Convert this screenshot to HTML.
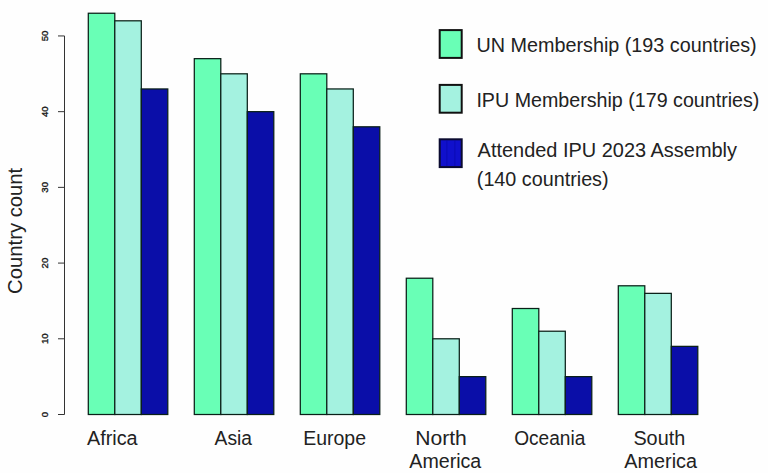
<!DOCTYPE html>
<html><head><meta charset="utf-8"><title>Chart</title>
<style>
html,body{margin:0;padding:0;background:#fefefe;}
body{width:768px;height:473px;overflow:hidden;}
svg{display:block;}
text{font-family:"Liberation Sans",sans-serif;fill:#222;}
.lab{font-size:19.6px;}
.leg{font-size:19.6px;}
.tick{font-size:9.6px;fill:#1a1a1a;stroke:#1a1a1a;stroke-width:0.35px;}
</style></head><body>
<svg width="768" height="473" viewBox="0 0 768 473">
<rect x="0" y="0" width="768" height="473" fill="#fefefe"/>

<rect x="88.30" y="13.24" width="26.50" height="401.26" fill="#69FFB6" stroke="#0a2018" stroke-width="1.25"/>
<rect x="114.80" y="20.81" width="26.50" height="393.69" fill="#A4F2E0" stroke="#0a2018" stroke-width="1.25"/>
<rect x="141.30" y="88.95" width="26.50" height="325.55" fill="#0A0EA8" stroke="#0a2018" stroke-width="1.25"/>
<rect x="194.30" y="58.66" width="26.50" height="355.84" fill="#69FFB6" stroke="#0a2018" stroke-width="1.25"/>
<rect x="220.80" y="73.81" width="26.50" height="340.69" fill="#A4F2E0" stroke="#0a2018" stroke-width="1.25"/>
<rect x="247.30" y="111.66" width="26.50" height="302.84" fill="#0A0EA8" stroke="#0a2018" stroke-width="1.25"/>
<rect x="300.30" y="73.81" width="26.50" height="340.69" fill="#69FFB6" stroke="#0a2018" stroke-width="1.25"/>
<rect x="326.80" y="88.95" width="26.50" height="325.55" fill="#A4F2E0" stroke="#0a2018" stroke-width="1.25"/>
<rect x="353.30" y="126.80" width="26.50" height="287.70" fill="#0A0EA8" stroke="#0a2018" stroke-width="1.25"/>
<rect x="406.30" y="278.22" width="26.50" height="136.28" fill="#69FFB6" stroke="#0a2018" stroke-width="1.25"/>
<rect x="432.80" y="338.79" width="26.50" height="75.71" fill="#A4F2E0" stroke="#0a2018" stroke-width="1.25"/>
<rect x="459.30" y="376.64" width="26.50" height="37.85" fill="#0A0EA8" stroke="#0a2018" stroke-width="1.25"/>
<rect x="512.30" y="308.51" width="26.50" height="105.99" fill="#69FFB6" stroke="#0a2018" stroke-width="1.25"/>
<rect x="538.80" y="331.22" width="26.50" height="83.28" fill="#A4F2E0" stroke="#0a2018" stroke-width="1.25"/>
<rect x="565.30" y="376.64" width="26.50" height="37.85" fill="#0A0EA8" stroke="#0a2018" stroke-width="1.25"/>
<rect x="618.30" y="285.79" width="26.50" height="128.71" fill="#69FFB6" stroke="#0a2018" stroke-width="1.25"/>
<rect x="644.80" y="293.36" width="26.50" height="121.14" fill="#A4F2E0" stroke="#0a2018" stroke-width="1.25"/>
<rect x="671.30" y="346.36" width="26.50" height="68.14" fill="#0A0EA8" stroke="#0a2018" stroke-width="1.25"/>
<path d="M64.5 35.95 V414.50" stroke="#333" stroke-width="1" fill="none"/>
<path d="M58 414.50 H64.5" stroke="#333" stroke-width="1" fill="none"/>
<text class="tick" transform="translate(48.1 414.50) rotate(-90)" text-anchor="middle">0</text>
<path d="M58 338.79 H64.5" stroke="#333" stroke-width="1" fill="none"/>
<text class="tick" transform="translate(48.1 338.79) rotate(-90)" text-anchor="middle">10</text>
<path d="M58 263.08 H64.5" stroke="#333" stroke-width="1" fill="none"/>
<text class="tick" transform="translate(48.1 263.08) rotate(-90)" text-anchor="middle">20</text>
<path d="M58 187.37 H64.5" stroke="#333" stroke-width="1" fill="none"/>
<text class="tick" transform="translate(48.1 187.37) rotate(-90)" text-anchor="middle">30</text>
<path d="M58 111.66 H64.5" stroke="#333" stroke-width="1" fill="none"/>
<text class="tick" transform="translate(48.1 111.66) rotate(-90)" text-anchor="middle">40</text>
<path d="M58 35.95 H64.5" stroke="#333" stroke-width="1" fill="none"/>
<text class="tick" transform="translate(48.1 35.95) rotate(-90)" text-anchor="middle">50</text>
<text class="lab" transform="translate(21.8 293.9) rotate(-90)" textLength="126.1" lengthAdjust="spacingAndGlyphs">Country count</text>
<text class="lab" x="87" y="444.5" textLength="50.6" lengthAdjust="spacingAndGlyphs">Africa</text>
<text class="lab" x="214.6" y="444.5" textLength="37.4" lengthAdjust="spacingAndGlyphs">Asia</text>
<text class="lab" x="303.2" y="444.5" textLength="62.8" lengthAdjust="spacingAndGlyphs">Europe</text>
<text class="lab" x="415.2" y="444.5" textLength="51.6" lengthAdjust="spacingAndGlyphs">North</text>
<text class="lab" x="409.3" y="467.5" textLength="72.0" lengthAdjust="spacingAndGlyphs">America</text>
<text class="lab" x="514.2" y="444.5" textLength="71.2" lengthAdjust="spacingAndGlyphs">Oceania</text>
<text class="lab" x="633.4" y="444.5" textLength="51.8" lengthAdjust="spacingAndGlyphs">South</text>
<text class="lab" x="624.3" y="467.5" textLength="72.7" lengthAdjust="spacingAndGlyphs">America</text>
<rect x="439.7" y="30.1" width="22" height="27.8" fill="#69FFB6" stroke="#111" stroke-width="2"/>
<rect x="439.7" y="84.9" width="22" height="27.8" fill="#A4F2E0" stroke="#111" stroke-width="2"/>
<rect x="439.7" y="139.3" width="22" height="27.8" fill="#1010CC" stroke="#0a0a30" stroke-width="2"/>
<path d="M446.8 140.3 V166" stroke="#0808a8" stroke-width="1.2" opacity="0.55"/>
<path d="M454.8 140.3 V166" stroke="#0808a8" stroke-width="1.2" opacity="0.55"/>
<text class="lab leg" x="476.5" y="51.55" textLength="280.1" lengthAdjust="spacingAndGlyphs">UN Membership (193 countries)</text>
<text class="lab leg" x="476.4" y="107.15" textLength="283.0" lengthAdjust="spacingAndGlyphs">IPU Membership (179 countries)</text>
<text class="lab leg" x="477.6" y="157.05" textLength="259.4" lengthAdjust="spacingAndGlyphs">Attended IPU 2023 Assembly</text>
<text class="lab leg" x="476.8" y="185.85" textLength="131.8" lengthAdjust="spacingAndGlyphs">(140 countries)</text>
</svg></body></html>
